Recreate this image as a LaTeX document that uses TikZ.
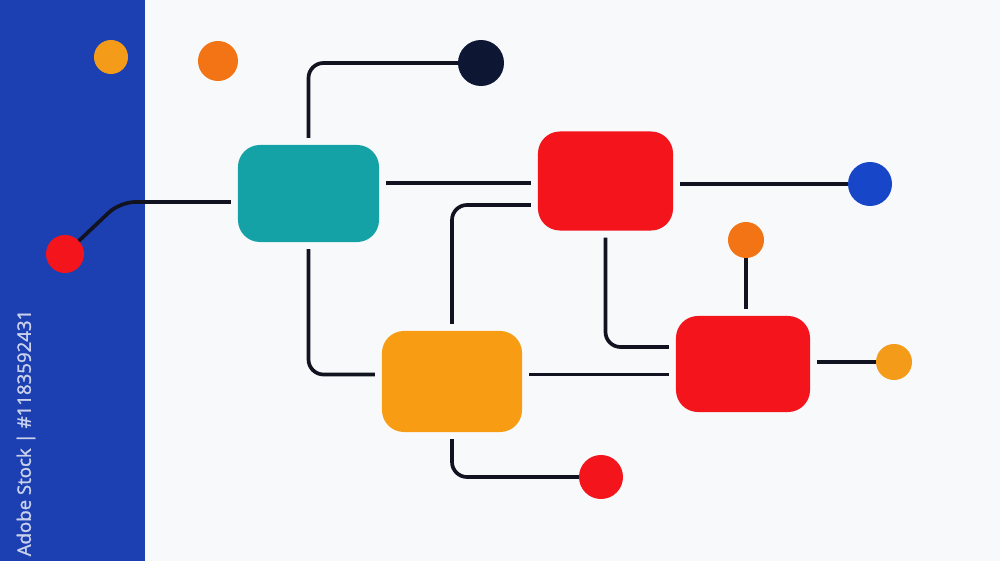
\documentclass[tikz,border=0pt]{standalone}
\usepackage{fontspec}
\setmainfont{Open Sans}
\usetikzlibrary{calc}
\definecolor{bgc}{HTML}{F8F9FB}
\definecolor{barblue}{HTML}{1C3FB2}
\definecolor{tealc}{HTML}{14A2A7}
\definecolor{redc}{HTML}{F3141C}
\definecolor{amberc}{HTML}{F89C14}
\definecolor{orangec}{HTML}{F27414}
\definecolor{yorange}{HTML}{F49B1A}
\definecolor{navyc}{HTML}{0D1633}
\definecolor{bluec}{HTML}{1747C8}
\definecolor{linec}{HTML}{111320}
\definecolor{wmtext}{HTML}{C9D1EC}
\begin{document}
\begin{tikzpicture}[x=0.01cm,y=-0.01cm,
  box/.style={draw=none,rounded corners=0.22cm,inner sep=0pt,outer sep=0.07cm},
  dot/.style={circle,inner sep=0pt,outer sep=0pt},
  link/.style={draw=linec,line width=1.05pt,rounded corners=0.15cm}]
\useasboundingbox (0,0) rectangle (1000,561);
\fill[bgc] (0,0) rectangle (1000,561);
\fill[barblue] (0,0) rectangle (145,561);
\node[rotate=90,text=wmtext,font=\fontsize{5.3pt}{6pt}\selectfont\addfontfeature{FakeBold=1.5}] (wm) at (26,433) {Adobe Stock | \#1183592431};
% boxes
\node[box,fill=tealc,minimum width=1.41cm,minimum height=0.97cm] (teal) at (308.5,193.5) {};
\node[box,fill=redc,minimum width=1.35cm,minimum height=0.99cm] (redtop) at (605.5,181) {};
\node[box,fill=redc,minimum width=1.34cm,minimum height=0.96cm] (redright) at (743,364) {};
\node[box,fill=amberc,minimum width=1.40cm,minimum height=1.01cm] (amber) at (452,381.5) {};
% dots
\node[dot,fill=yorange,minimum size=0.34cm] (d1) at (111,57) {};
\node[dot,fill=orangec,minimum size=0.40cm] (d2) at (218,61) {};
\node[dot,fill=navyc,minimum size=0.46cm] (navy) at (481,63) {};
\node[dot,fill=bluec,minimum size=0.44cm] (blue) at (870,184) {};
\node[dot,fill=orangec,minimum size=0.36cm] (d3) at (746,240) {};
\node[dot,fill=yorange,minimum size=0.36cm] (d4) at (894,362) {};
\node[dot,fill=redc,minimum size=0.44cm] (redbot) at (601,477) {};
\node[dot,fill=redc,minimum size=0.38cm] (redleft) at (65,254) {};
% coordinates
\coordinate (k1) at (120,202);
\coordinate (k2) at ($(redtop.west)+(0,24)$);
\coordinate (k3) at ($(redright.west)+(0,-17)$);
\coordinate (k4) at ($(amber.west)+(0,-7)$);
\coordinate (k5) at ($(amber.east)+(0,-7)$);
\coordinate (k6) at ($(redtop.west)+(0,2)$);
% links
\draw[link] (teal.north) |- (navy.west);
\draw[link] (redleft) -- (k1) -- (k1 -| teal.west);
\draw[link] (teal.east |- k6) -- (k6);
\draw[link] (redtop.east |- blue.west) -- (blue.west);
\draw[link] (k2) -| (amber.north);
\draw[link] (redtop.south) |- (k3);
\draw[link] (teal.south) |- (k4);
\draw[link] (k5) -- (k5 -| redright.west);
\draw[link] (amber.south) |- (redbot.west);
\draw[link] (d3) -- (d3 |- redright.north);
\draw[link] (redright.east |- d4.west) -- (d4.west);
\end{tikzpicture}
\end{document}
